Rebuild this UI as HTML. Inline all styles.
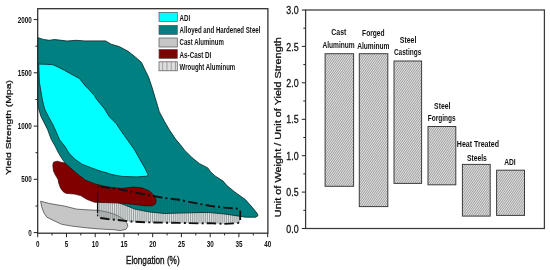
<!DOCTYPE html>
<html lang="en"><head><meta charset="utf-8"><title>Yield strength vs elongation</title>
<style>
html,body{margin:0;padding:0;background:#fff;}
body{width:550px;height:270px;overflow:hidden;position:relative;font-family:'Liberation Sans', 'DejaVu Sans', sans-serif;}
svg{position:absolute;left:0;top:0;display:block;filter:blur(0.35px);}
svg text{font-family:'Liberation Sans', 'DejaVu Sans', sans-serif;}
</style></head><body>
<svg width="550" height="270" viewBox="0 0 550 270">
<defs>
<pattern id="vh" width="1.9" height="4" patternUnits="userSpaceOnUse"><rect x="0" width="0.6" height="4" fill="#a2a2a2"/></pattern>
<pattern id="vh2" x="159" width="4.2" height="4" patternUnits="userSpaceOnUse"><rect width="4.2" height="4" fill="#dedede"/><rect x="3.3" width="0.8" height="4" fill="#8c8c8c"/></pattern>
</defs>
<rect width="550" height="270" fill="#fff"/>
<polygon points="97.6,187.2 104.4,187.1 120.0,189.4 134.8,192.4 149.6,195.4 164.4,197.9 179.3,199.8 197.0,203.4 209.8,205.8 224.6,207.6 238.0,208.7 240.2,210.0 240.2,221.4 238.0,223.1 224.6,223.9 209.8,223.1 200.0,223.4 179.3,222.9 149.6,222.4 128.9,221.4 120.0,220.2 107.6,219.0 100.2,218.0 97.8,215.0" fill="#e4e4e4"/>
<polygon points="40.6,201.2 49.8,203.6 64.6,206.1 76.5,209.1 86.9,209.8 97.2,210.3 100.2,210.6 109.1,212.5 115.0,214.5 120.0,217.0 124.5,220.0 127.5,224.0 127.7,226.5 125.9,229.4 120.0,230.6 115.0,229.8 101.7,229.1 86.9,227.9 72.0,226.1 61.7,224.3 54.3,220.9 46.9,217.2 43.9,212.8 41.7,206.9" fill="#c6c6c6" stroke="#3a3a3a" stroke-width="0.7" stroke-linejoin="round"/>
<polygon points="97.6,187.2 104.4,187.1 120.0,189.4 134.8,192.4 149.6,195.4 164.4,197.9 179.3,199.8 197.0,203.4 209.8,205.8 224.6,207.6 238.0,208.7 240.2,210.0 240.2,221.4 238.0,223.1 224.6,223.9 209.8,223.1 200.0,223.4 179.3,222.9 149.6,222.4 128.9,221.4 120.0,220.2 107.6,219.0 100.2,218.0 97.8,215.0" fill="url(#vh)"/>
<polygon points="37.7,37.6 43.3,39.4 49.3,40.3 54.4,39.5 59.6,40.1 67.0,41.0 76.0,40.3 84.8,40.9 105.6,40.9 111.1,44.2 119.3,46.6 128.1,51.3 135.6,57.2 141.5,62.4 144.6,69.0 148.5,77.0 152.2,87.8 155.2,98.1 157.5,105.5 159.3,111.7 164.4,121.3 169.6,130.2 175.6,139.1 180.0,144.3 184.8,150.4 192.2,157.8 199.6,163.7 207.8,167.9 210.7,171.9 215.0,175.9 223.1,181.1 226.9,185.6 235.0,192.2 245.4,199.6 253.5,208.8 257.2,213.5 258.0,215.7 255.7,217.2 245.4,217.2 239.4,216.2 224.6,214.0 209.8,212.6 200.0,212.5 179.3,213.1 164.4,213.5 149.6,212.0 134.8,209.1 126.0,205.5 100.0,196.0 80.0,185.0 70.0,175.0 64.6,162.2 62.4,159.3 58.7,153.3 55.0,145.9 51.3,139.5 47.6,129.6 43.9,122.2 40.9,116.3 38.3,107.4 37.7,100.0" fill="#008080" stroke="#062626" stroke-width="0.8" stroke-linejoin="round"/>
<pattern id="vl" width="1.9" height="4" patternUnits="userSpaceOnUse"><rect x="0" width="0.6" height="4" fill="#033"/></pattern>
<polygon points="97.6,187.2 104.4,187.1 120.0,189.4 134.8,192.4 149.6,195.4 164.4,197.9 179.3,199.8 197.0,203.4 209.8,205.8 224.6,207.6 238.0,208.7 240.2,210.0 240.2,221.4 238.0,223.1 224.6,223.9 209.8,223.1 200.0,223.4 179.3,222.9 149.6,222.4 128.9,221.4 120.0,220.2 107.6,219.0 100.2,218.0 97.8,215.0" fill="url(#vl)" fill-opacity="0.3"/>
<polygon points="38.7,64.1 46.0,64.3 52.8,64.7 58.0,67.0 64.6,70.4 72.0,74.5 79.4,78.5 85.4,85.9 89.0,89.6 94.3,95.6 97.2,100.0 104.6,108.9 109.3,116.7 115.9,123.3 124.1,135.2 131.1,145.0 134.4,149.7 138.5,156.9 144.4,167.2 148.1,174.6 147.4,176.1 137.0,176.9 122.2,176.4 111.9,174.6 106.1,172.6 100.0,171.0 94.3,168.9 82.4,164.4 75.0,159.3 69.1,153.3 64.6,145.9 59.4,139.5 56.5,132.6 52.8,124.4 48.3,116.3 44.6,108.9 42.4,100.0 39.4,82.2" fill="#00ffff" stroke="#062626" stroke-width="0.8" stroke-linejoin="round"/>
<polygon points="53.5,162.2 57.2,161.2 60.9,162.2 64.6,163.0 69.1,166.7 75.0,171.9 79.4,175.6 83.9,178.8 85.2,180.0 95.0,183.9 108.0,187.1 121.0,188.4 133.9,187.1 141.7,187.8 149.5,191.0 154.7,196.2 156.2,200.8 155.3,204.0 152.1,205.9 144.3,205.7 133.9,204.4 121.0,203.1 108.0,202.7 95.0,202.3 92.6,201.6 86.7,199.3 80.7,195.6 74.8,194.1 65.9,193.3 63.0,191.5 60.5,188.0 58.7,183.0 58.0,179.3 55.7,175.6 53.5,171.1 52.8,165.2" fill="#800000" stroke="#3a0000" stroke-width="0.7" stroke-linejoin="round"/>
<polyline points="100.5,186.6 120.0,189.4 134.8,192.4 149.6,195.4 164.4,197.9 179.3,199.8 197.0,203.4 209.8,205.8 224.6,207.6 238.0,208.7 240.2,210.0 240.2,221.4 238.0,223.1 224.6,223.9 209.8,223.1 200.0,223.4 179.3,222.9 149.6,222.4 128.9,221.4 120.0,220.2 107.6,219.0 100.2,218.0" fill="none" stroke="#111" stroke-width="1.9" stroke-dasharray="9.5 3 2 3.3" stroke-linejoin="round"/>
<path d="M97.6 191.5V213.2M97.2 187.2h1.8M97.6 214.6v1.6" stroke="#111" stroke-width="1.3" fill="none"/>
<rect x="37.7" y="8.7" width="230.2" height="224.5" fill="none" stroke="#2a2a2a" stroke-width="1.25"/>
<line x1="33.7" y1="232.6" x2="37.7" y2="232.6" stroke="#222" stroke-width="1"/>
<line x1="35.5" y1="206.0" x2="37.7" y2="206.0" stroke="#222" stroke-width="1"/>
<line x1="33.7" y1="179.3" x2="37.7" y2="179.3" stroke="#222" stroke-width="1"/>
<line x1="35.5" y1="152.7" x2="37.7" y2="152.7" stroke="#222" stroke-width="1"/>
<line x1="33.7" y1="126.1" x2="37.7" y2="126.1" stroke="#222" stroke-width="1"/>
<line x1="35.5" y1="99.5" x2="37.7" y2="99.5" stroke="#222" stroke-width="1"/>
<line x1="33.7" y1="72.8" x2="37.7" y2="72.8" stroke="#222" stroke-width="1"/>
<line x1="35.5" y1="46.2" x2="37.7" y2="46.2" stroke="#222" stroke-width="1"/>
<line x1="33.7" y1="19.6" x2="37.7" y2="19.6" stroke="#222" stroke-width="1"/>
<line x1="37.7" y1="233.2" x2="37.7" y2="237.2" stroke="#222" stroke-width="1"/>
<line x1="52.1" y1="233.2" x2="52.1" y2="235.4" stroke="#222" stroke-width="1"/>
<line x1="66.5" y1="233.2" x2="66.5" y2="237.2" stroke="#222" stroke-width="1"/>
<line x1="80.8" y1="233.2" x2="80.8" y2="235.4" stroke="#222" stroke-width="1"/>
<line x1="95.2" y1="233.2" x2="95.2" y2="237.2" stroke="#222" stroke-width="1"/>
<line x1="109.6" y1="233.2" x2="109.6" y2="235.4" stroke="#222" stroke-width="1"/>
<line x1="124.0" y1="233.2" x2="124.0" y2="237.2" stroke="#222" stroke-width="1"/>
<line x1="138.3" y1="233.2" x2="138.3" y2="235.4" stroke="#222" stroke-width="1"/>
<line x1="152.7" y1="233.2" x2="152.7" y2="237.2" stroke="#222" stroke-width="1"/>
<line x1="167.1" y1="233.2" x2="167.1" y2="235.4" stroke="#222" stroke-width="1"/>
<line x1="181.4" y1="233.2" x2="181.4" y2="237.2" stroke="#222" stroke-width="1"/>
<line x1="195.8" y1="233.2" x2="195.8" y2="235.4" stroke="#222" stroke-width="1"/>
<line x1="210.2" y1="233.2" x2="210.2" y2="237.2" stroke="#222" stroke-width="1"/>
<line x1="224.6" y1="233.2" x2="224.6" y2="235.4" stroke="#222" stroke-width="1"/>
<line x1="238.9" y1="233.2" x2="238.9" y2="237.2" stroke="#222" stroke-width="1"/>
<line x1="253.3" y1="233.2" x2="253.3" y2="235.4" stroke="#222" stroke-width="1"/>
<line x1="267.7" y1="233.2" x2="267.7" y2="237.2" stroke="#222" stroke-width="1"/>
<text transform="translate(31.7,235.6)" font-size="8.8" font-weight="bold" text-anchor="end" textLength="3.5" lengthAdjust="spacingAndGlyphs" fill="#111">0</text>
<text transform="translate(31.7,182.3)" font-size="8.8" font-weight="bold" text-anchor="end" textLength="10.5" lengthAdjust="spacingAndGlyphs" fill="#111">500</text>
<text transform="translate(31.7,129.1)" font-size="8.8" font-weight="bold" text-anchor="end" textLength="14.0" lengthAdjust="spacingAndGlyphs" fill="#111">1000</text>
<text transform="translate(31.7,75.8)" font-size="8.8" font-weight="bold" text-anchor="end" textLength="14.0" lengthAdjust="spacingAndGlyphs" fill="#111">1500</text>
<text transform="translate(31.7,22.6)" font-size="8.8" font-weight="bold" text-anchor="end" textLength="14.0" lengthAdjust="spacingAndGlyphs" fill="#111">2000</text>
<text transform="translate(37.7,247.3)" font-size="8.8" font-weight="bold" text-anchor="middle" textLength="3.5" lengthAdjust="spacingAndGlyphs" fill="#111">0</text>
<text transform="translate(66.5,247.3)" font-size="8.8" font-weight="bold" text-anchor="middle" textLength="3.5" lengthAdjust="spacingAndGlyphs" fill="#111">5</text>
<text transform="translate(95.2,247.3)" font-size="8.8" font-weight="bold" text-anchor="middle" textLength="7.0" lengthAdjust="spacingAndGlyphs" fill="#111">10</text>
<text transform="translate(124.0,247.3)" font-size="8.8" font-weight="bold" text-anchor="middle" textLength="7.0" lengthAdjust="spacingAndGlyphs" fill="#111">15</text>
<text transform="translate(152.7,247.3)" font-size="8.8" font-weight="bold" text-anchor="middle" textLength="7.0" lengthAdjust="spacingAndGlyphs" fill="#111">20</text>
<text transform="translate(181.4,247.3)" font-size="8.8" font-weight="bold" text-anchor="middle" textLength="7.0" lengthAdjust="spacingAndGlyphs" fill="#111">25</text>
<text transform="translate(210.2,247.3)" font-size="8.8" font-weight="bold" text-anchor="middle" textLength="7.0" lengthAdjust="spacingAndGlyphs" fill="#111">30</text>
<text transform="translate(238.9,247.3)" font-size="8.8" font-weight="bold" text-anchor="middle" textLength="7.0" lengthAdjust="spacingAndGlyphs" fill="#111">35</text>
<text transform="translate(267.7,247.3)" font-size="8.8" font-weight="bold" text-anchor="middle" textLength="7.0" lengthAdjust="spacingAndGlyphs" fill="#111">40</text>
<text transform="translate(152.8,264.0)" font-size="11" font-weight="normal" text-anchor="middle" textLength="53.6" lengthAdjust="spacingAndGlyphs" fill="#111" stroke="#111" stroke-width="0.35">Elongation (%)</text>
<text transform="translate(11.0,127.5) rotate(-90) scale(1,0.76)" font-size="10.4" font-weight="normal" text-anchor="middle" textLength="95.0" lengthAdjust="spacingAndGlyphs" fill="#111" stroke="#111" stroke-width="0.35">Yield Strength (Mpa)</text>
<rect x="159" y="12.4" width="18.3" height="9" fill="#00ffff" stroke="#555" stroke-width="0.7"/>
<text transform="translate(179.6,20.8)" font-size="9.1" font-weight="bold" text-anchor="start" textLength="10.6" lengthAdjust="spacingAndGlyphs" fill="#111">ADI</text>
<rect x="159" y="25.4" width="18.3" height="9" fill="#008080" stroke="#555" stroke-width="0.7"/>
<text transform="translate(179.6,33.4)" font-size="9.1" font-weight="bold" text-anchor="start" textLength="80.8" lengthAdjust="spacingAndGlyphs" fill="#111">Alloyed and Hardened Steel</text>
<rect x="159" y="38" width="18.3" height="9" fill="#c6c6c6" stroke="#555" stroke-width="0.7"/>
<text transform="translate(179.6,45.3)" font-size="9.1" font-weight="bold" text-anchor="start" textLength="44.2" lengthAdjust="spacingAndGlyphs" fill="#111">Cast Aluminum</text>
<rect x="159" y="49.4" width="18.3" height="9" fill="#800000" stroke="#555" stroke-width="0.7"/>
<text transform="translate(179.6,57.6)" font-size="9.1" font-weight="bold" text-anchor="start" textLength="31.6" lengthAdjust="spacingAndGlyphs" fill="#111">As-Cast DI</text>
<rect x="159" y="61.8" width="18.3" height="9" fill="url(#vh2)" stroke="#555" stroke-width="0.7"/>
<text transform="translate(179.6,70.0)" font-size="9.1" font-weight="bold" text-anchor="start" textLength="55.6" lengthAdjust="spacingAndGlyphs" fill="#111">Wrought Aluminum</text>
<rect x="305.6" y="10.0" width="238.8" height="218.5" fill="none" stroke="#3a3a3a" stroke-width="1.25"/>
<line x1="301.8" y1="228.5" x2="305.6" y2="228.5" stroke="#222" stroke-width="1"/>
<text transform="translate(298.6,232.6)" font-size="11.5" font-weight="normal" text-anchor="end" textLength="12.3" lengthAdjust="spacingAndGlyphs" fill="#111" stroke="#111" stroke-width="0.3">0.0</text>
<line x1="303.3" y1="210.3" x2="305.6" y2="210.3" stroke="#222" stroke-width="1"/>
<line x1="301.8" y1="192.1" x2="305.6" y2="192.1" stroke="#222" stroke-width="1"/>
<text transform="translate(298.6,196.2)" font-size="11.5" font-weight="normal" text-anchor="end" textLength="12.3" lengthAdjust="spacingAndGlyphs" fill="#111" stroke="#111" stroke-width="0.3">0.5</text>
<line x1="303.3" y1="173.9" x2="305.6" y2="173.9" stroke="#222" stroke-width="1"/>
<line x1="301.8" y1="155.7" x2="305.6" y2="155.7" stroke="#222" stroke-width="1"/>
<text transform="translate(298.6,159.8)" font-size="11.5" font-weight="normal" text-anchor="end" textLength="12.3" lengthAdjust="spacingAndGlyphs" fill="#111" stroke="#111" stroke-width="0.3">1.0</text>
<line x1="303.3" y1="137.5" x2="305.6" y2="137.5" stroke="#222" stroke-width="1"/>
<line x1="301.8" y1="119.3" x2="305.6" y2="119.3" stroke="#222" stroke-width="1"/>
<text transform="translate(298.6,123.4)" font-size="11.5" font-weight="normal" text-anchor="end" textLength="12.3" lengthAdjust="spacingAndGlyphs" fill="#111" stroke="#111" stroke-width="0.3">1.5</text>
<line x1="303.3" y1="101.0" x2="305.6" y2="101.0" stroke="#222" stroke-width="1"/>
<line x1="301.8" y1="82.8" x2="305.6" y2="82.8" stroke="#222" stroke-width="1"/>
<text transform="translate(298.6,86.9)" font-size="11.5" font-weight="normal" text-anchor="end" textLength="12.3" lengthAdjust="spacingAndGlyphs" fill="#111" stroke="#111" stroke-width="0.3">2.0</text>
<line x1="303.3" y1="64.6" x2="305.6" y2="64.6" stroke="#222" stroke-width="1"/>
<line x1="301.8" y1="46.4" x2="305.6" y2="46.4" stroke="#222" stroke-width="1"/>
<text transform="translate(298.6,50.5)" font-size="11.5" font-weight="normal" text-anchor="end" textLength="12.3" lengthAdjust="spacingAndGlyphs" fill="#111" stroke="#111" stroke-width="0.3">2.5</text>
<line x1="303.3" y1="28.2" x2="305.6" y2="28.2" stroke="#222" stroke-width="1"/>
<line x1="301.8" y1="10.0" x2="305.6" y2="10.0" stroke="#222" stroke-width="1"/>
<text transform="translate(298.6,14.1)" font-size="11.5" font-weight="normal" text-anchor="end" textLength="12.3" lengthAdjust="spacingAndGlyphs" fill="#111" stroke="#111" stroke-width="0.3">3.0</text>
<clipPath id="cb0"><rect x="325.1" y="53.7" width="28.5" height="132.6"/></clipPath>
<rect x="325.1" y="53.7" width="28.5" height="132.6" fill="#dedede"/>
<path d="M232.9 186.3L325.7 53.7M235.1 186.3L327.9 53.7M237.3 186.3L330.1 53.7M239.5 186.3L332.3 53.7M241.7 186.3L334.5 53.7M243.9 186.3L336.7 53.7M246.1 186.3L338.9 53.7M248.3 186.3L341.1 53.7M250.5 186.3L343.3 53.7M252.7 186.3L345.5 53.7M254.9 186.3L347.7 53.7M257.1 186.3L349.9 53.7M259.3 186.3L352.1 53.7M261.5 186.3L354.3 53.7M263.7 186.3L356.5 53.7M265.9 186.3L358.7 53.7M268.1 186.3L360.9 53.7M270.3 186.3L363.1 53.7M272.5 186.3L365.3 53.7M274.7 186.3L367.5 53.7M276.9 186.3L369.7 53.7M279.1 186.3L371.9 53.7M281.3 186.3L374.1 53.7M283.5 186.3L376.3 53.7M285.7 186.3L378.5 53.7M287.9 186.3L380.7 53.7M290.1 186.3L382.9 53.7M292.3 186.3L385.1 53.7M294.5 186.3L387.3 53.7M296.7 186.3L389.5 53.7M298.9 186.3L391.7 53.7M301.1 186.3L393.9 53.7M303.3 186.3L396.1 53.7M305.5 186.3L398.3 53.7M307.7 186.3L400.5 53.7M309.9 186.3L402.7 53.7M312.1 186.3L404.9 53.7M314.3 186.3L407.1 53.7M316.5 186.3L409.3 53.7M318.7 186.3L411.5 53.7M320.9 186.3L413.7 53.7M323.1 186.3L415.9 53.7M325.3 186.3L418.1 53.7M327.5 186.3L420.3 53.7M329.7 186.3L422.5 53.7M331.9 186.3L424.7 53.7M334.1 186.3L426.9 53.7M336.3 186.3L429.1 53.7M338.5 186.3L431.3 53.7M340.7 186.3L433.5 53.7M342.9 186.3L435.7 53.7M345.1 186.3L437.9 53.7M347.3 186.3L440.1 53.7M349.5 186.3L442.3 53.7M351.7 186.3L444.5 53.7" stroke="#979797" stroke-width="0.9" fill="none" clip-path="url(#cb0)"/>
<rect x="325.1" y="53.7" width="28.5" height="132.6" fill="none" stroke="#3c3c3c" stroke-width="1"/>
<text transform="translate(331.3,34.8)" font-size="8.9" font-weight="bold" text-anchor="start" textLength="15.1" lengthAdjust="spacingAndGlyphs" fill="#111">Cast</text>
<text transform="translate(322.4,48.1)" font-size="8.9" font-weight="bold" text-anchor="start" textLength="32.3" lengthAdjust="spacingAndGlyphs" fill="#111">Aluminum</text>
<clipPath id="cb1"><rect x="359.3" y="53.7" width="28.5" height="152.9"/></clipPath>
<rect x="359.3" y="53.7" width="28.5" height="152.9" fill="#dedede"/>
<path d="M252.8 206.7L359.9 53.7M255.0 206.7L362.1 53.7M257.2 206.7L364.3 53.7M259.4 206.7L366.5 53.7M261.6 206.7L368.7 53.7M263.8 206.7L370.9 53.7M266.0 206.7L373.1 53.7M268.2 206.7L375.3 53.7M270.4 206.7L377.5 53.7M272.6 206.7L379.7 53.7M274.8 206.7L381.9 53.7M277.0 206.7L384.1 53.7M279.2 206.7L386.3 53.7M281.4 206.7L388.5 53.7M283.6 206.7L390.7 53.7M285.8 206.7L392.9 53.7M288.0 206.7L395.1 53.7M290.2 206.7L397.3 53.7M292.4 206.7L399.5 53.7M294.6 206.7L401.7 53.7M296.8 206.7L403.9 53.7M299.0 206.7L406.1 53.7M301.2 206.7L408.3 53.7M303.4 206.7L410.5 53.7M305.6 206.7L412.7 53.7M307.8 206.7L414.9 53.7M310.0 206.7L417.1 53.7M312.2 206.7L419.3 53.7M314.4 206.7L421.5 53.7M316.6 206.7L423.7 53.7M318.8 206.7L425.9 53.7M321.0 206.7L428.1 53.7M323.2 206.7L430.3 53.7M325.4 206.7L432.5 53.7M327.6 206.7L434.7 53.7M329.8 206.7L436.9 53.7M332.0 206.7L439.1 53.7M334.2 206.7L441.3 53.7M336.4 206.7L443.5 53.7M338.6 206.7L445.7 53.7M340.8 206.7L447.9 53.7M343.0 206.7L450.1 53.7M345.2 206.7L452.3 53.7M347.4 206.7L454.5 53.7M349.6 206.7L456.7 53.7M351.8 206.7L458.9 53.7M354.0 206.7L461.1 53.7M356.2 206.7L463.3 53.7M358.4 206.7L465.5 53.7M360.6 206.7L467.7 53.7M362.8 206.7L469.9 53.7M365.0 206.7L472.1 53.7M367.2 206.7L474.3 53.7M369.4 206.7L476.5 53.7M371.6 206.7L478.7 53.7M373.8 206.7L480.9 53.7M376.0 206.7L483.1 53.7M378.2 206.7L485.3 53.7M380.4 206.7L487.5 53.7M382.6 206.7L489.7 53.7M384.8 206.7L491.9 53.7M387.0 206.7L494.1 53.7" stroke="#979797" stroke-width="0.9" fill="none" clip-path="url(#cb1)"/>
<rect x="359.3" y="53.7" width="28.5" height="152.9" fill="none" stroke="#3c3c3c" stroke-width="1"/>
<text transform="translate(362.1,36.3)" font-size="8.9" font-weight="bold" text-anchor="start" textLength="22.5" lengthAdjust="spacingAndGlyphs" fill="#111">Forged</text>
<text transform="translate(357.2,49.3)" font-size="8.9" font-weight="bold" text-anchor="start" textLength="32.3" lengthAdjust="spacingAndGlyphs" fill="#111">Aluminum</text>
<clipPath id="cb2"><rect x="394.0" y="61.0" width="27.6" height="122.4"/></clipPath>
<rect x="394.0" y="61.0" width="27.6" height="122.4" fill="#dedede"/>
<path d="M308.9 183.3L394.6 61.0M311.1 183.3L396.8 61.0M313.3 183.3L399.0 61.0M315.5 183.3L401.2 61.0M317.7 183.3L403.4 61.0M319.9 183.3L405.6 61.0M322.1 183.3L407.8 61.0M324.3 183.3L410.0 61.0M326.5 183.3L412.2 61.0M328.7 183.3L414.4 61.0M330.9 183.3L416.6 61.0M333.1 183.3L418.8 61.0M335.3 183.3L421.0 61.0M337.5 183.3L423.2 61.0M339.7 183.3L425.4 61.0M341.9 183.3L427.6 61.0M344.1 183.3L429.8 61.0M346.3 183.3L432.0 61.0M348.5 183.3L434.2 61.0M350.7 183.3L436.4 61.0M352.9 183.3L438.6 61.0M355.1 183.3L440.8 61.0M357.3 183.3L443.0 61.0M359.5 183.3L445.2 61.0M361.7 183.3L447.4 61.0M363.9 183.3L449.6 61.0M366.1 183.3L451.8 61.0M368.3 183.3L454.0 61.0M370.5 183.3L456.2 61.0M372.7 183.3L458.4 61.0M374.9 183.3L460.6 61.0M377.1 183.3L462.8 61.0M379.3 183.3L465.0 61.0M381.5 183.3L467.2 61.0M383.7 183.3L469.4 61.0M385.9 183.3L471.6 61.0M388.1 183.3L473.8 61.0M390.3 183.3L476.0 61.0M392.5 183.3L478.2 61.0M394.7 183.3L480.4 61.0M396.9 183.3L482.6 61.0M399.1 183.3L484.8 61.0M401.3 183.3L487.0 61.0M403.5 183.3L489.2 61.0M405.7 183.3L491.4 61.0M407.9 183.3L493.6 61.0M410.1 183.3L495.8 61.0M412.3 183.3L498.0 61.0M414.5 183.3L500.2 61.0M416.7 183.3L502.4 61.0M418.9 183.3L504.6 61.0M421.1 183.3L506.8 61.0" stroke="#979797" stroke-width="0.9" fill="none" clip-path="url(#cb2)"/>
<rect x="394.0" y="61.0" width="27.6" height="122.4" fill="none" stroke="#3c3c3c" stroke-width="1"/>
<text transform="translate(399.8,42.5)" font-size="8.9" font-weight="bold" text-anchor="start" textLength="16.6" lengthAdjust="spacingAndGlyphs" fill="#111">Steel</text>
<text transform="translate(393.9,55.4)" font-size="8.9" font-weight="bold" text-anchor="start" textLength="27.4" lengthAdjust="spacingAndGlyphs" fill="#111">Castings</text>
<clipPath id="cb3"><rect x="428.0" y="126.5" width="27.8" height="58.3"/></clipPath>
<rect x="428.0" y="126.5" width="27.8" height="58.3" fill="#dedede"/>
<path d="M387.8 184.8L428.6 126.5M390.0 184.8L430.8 126.5M392.2 184.8L433.0 126.5M394.4 184.8L435.2 126.5M396.6 184.8L437.4 126.5M398.8 184.8L439.6 126.5M401.0 184.8L441.8 126.5M403.2 184.8L444.0 126.5M405.4 184.8L446.2 126.5M407.6 184.8L448.4 126.5M409.8 184.8L450.6 126.5M412.0 184.8L452.8 126.5M414.2 184.8L455.0 126.5M416.4 184.8L457.2 126.5M418.6 184.8L459.4 126.5M420.8 184.8L461.6 126.5M423.0 184.8L463.8 126.5M425.2 184.8L466.0 126.5M427.4 184.8L468.2 126.5M429.6 184.8L470.4 126.5M431.8 184.8L472.6 126.5M434.0 184.8L474.8 126.5M436.2 184.8L477.0 126.5M438.4 184.8L479.2 126.5M440.6 184.8L481.4 126.5M442.8 184.8L483.6 126.5M445.0 184.8L485.8 126.5M447.2 184.8L488.0 126.5M449.4 184.8L490.2 126.5M451.6 184.8L492.4 126.5M453.8 184.8L494.6 126.5" stroke="#979797" stroke-width="0.9" fill="none" clip-path="url(#cb3)"/>
<rect x="428.0" y="126.5" width="27.8" height="58.3" fill="none" stroke="#3c3c3c" stroke-width="1"/>
<text transform="translate(434.1,108.5)" font-size="8.9" font-weight="bold" text-anchor="start" textLength="16.3" lengthAdjust="spacingAndGlyphs" fill="#111">Steel</text>
<text transform="translate(427.7,121.4)" font-size="8.9" font-weight="bold" text-anchor="start" textLength="27.9" lengthAdjust="spacingAndGlyphs" fill="#111">Forgings</text>
<clipPath id="cb4"><rect x="462.4" y="164.4" width="27.8" height="51.7"/></clipPath>
<rect x="462.4" y="164.4" width="27.8" height="51.7" fill="#dedede"/>
<path d="M426.8 216.1L463.0 164.4M429.0 216.1L465.2 164.4M431.2 216.1L467.4 164.4M433.4 216.1L469.6 164.4M435.6 216.1L471.8 164.4M437.8 216.1L474.0 164.4M440.0 216.1L476.2 164.4M442.2 216.1L478.4 164.4M444.4 216.1L480.6 164.4M446.6 216.1L482.8 164.4M448.8 216.1L485.0 164.4M451.0 216.1L487.2 164.4M453.2 216.1L489.4 164.4M455.4 216.1L491.6 164.4M457.6 216.1L493.8 164.4M459.8 216.1L496.0 164.4M462.0 216.1L498.2 164.4M464.2 216.1L500.4 164.4M466.4 216.1L502.6 164.4M468.6 216.1L504.8 164.4M470.8 216.1L507.0 164.4M473.0 216.1L509.2 164.4M475.2 216.1L511.4 164.4M477.4 216.1L513.6 164.4M479.6 216.1L515.8 164.4M481.8 216.1L518.0 164.4M484.0 216.1L520.2 164.4M486.2 216.1L522.4 164.4M488.4 216.1L524.6 164.4" stroke="#979797" stroke-width="0.9" fill="none" clip-path="url(#cb4)"/>
<rect x="462.4" y="164.4" width="27.8" height="51.7" fill="none" stroke="#3c3c3c" stroke-width="1"/>
<text transform="translate(456.8,147.1)" font-size="8.9" font-weight="bold" text-anchor="start" textLength="42.3" lengthAdjust="spacingAndGlyphs" fill="#111">Heat Treated</text>
<text transform="translate(466.9,160.5)" font-size="8.9" font-weight="bold" text-anchor="start" textLength="20.0" lengthAdjust="spacingAndGlyphs" fill="#111">Steels</text>
<clipPath id="cb5"><rect x="496.6" y="170.2" width="27.9" height="45.2"/></clipPath>
<rect x="496.6" y="170.2" width="27.9" height="45.2" fill="#dedede"/>
<path d="M465.6 215.4L497.2 170.2M467.8 215.4L499.4 170.2M470.0 215.4L501.6 170.2M472.2 215.4L503.8 170.2M474.4 215.4L506.0 170.2M476.6 215.4L508.2 170.2M478.8 215.4L510.4 170.2M481.0 215.4L512.6 170.2M483.2 215.4L514.8 170.2M485.4 215.4L517.0 170.2M487.6 215.4L519.2 170.2M489.8 215.4L521.4 170.2M492.0 215.4L523.6 170.2M494.2 215.4L525.8 170.2M496.4 215.4L528.0 170.2M498.6 215.4L530.2 170.2M500.8 215.4L532.4 170.2M503.0 215.4L534.6 170.2M505.2 215.4L536.8 170.2M507.4 215.4L539.0 170.2M509.6 215.4L541.2 170.2M511.8 215.4L543.4 170.2M514.0 215.4L545.6 170.2M516.2 215.4L547.8 170.2M518.4 215.4L550.0 170.2M520.6 215.4L552.2 170.2M522.8 215.4L554.4 170.2" stroke="#979797" stroke-width="0.9" fill="none" clip-path="url(#cb5)"/>
<rect x="496.6" y="170.2" width="27.9" height="45.2" fill="none" stroke="#3c3c3c" stroke-width="1"/>
<text transform="translate(504.2,164.9)" font-size="8.9" font-weight="bold" text-anchor="start" textLength="11.5" lengthAdjust="spacingAndGlyphs" fill="#111">ADI</text>
<text transform="translate(281.0,127.2) rotate(-90) scale(1,0.76)" font-size="10.9" font-weight="normal" text-anchor="middle" textLength="180.0" lengthAdjust="spacingAndGlyphs" fill="#111" stroke="#111" stroke-width="0.35">Unit of Weight / Unit of Yield Strength</text>
</svg>
</body></html>
